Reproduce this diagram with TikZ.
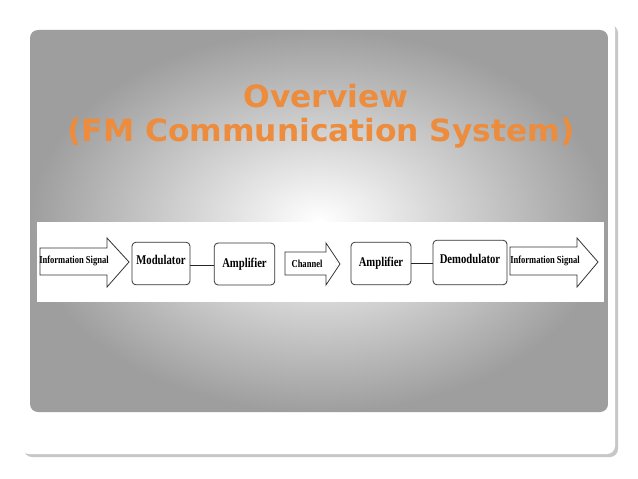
\documentclass[tikz,border=0pt]{standalone}
\usepackage{fontspec}
\setmainfont{Liberation Serif}
\newfontfamily\titlefont{DejaVu Sans}
\usetikzlibrary{shapes.arrows}
\definecolor{ttl}{RGB}{236,140,60}
\begin{document}
\begin{tikzpicture}[x=0.75pt,y=-0.75pt,
  blk/.style={draw=black!80,rounded corners=3pt,fill=white,line width=0.6pt,font=\bfseries\fontsize{10}{11}\selectfont},
  arr/.style={draw=black!80,fill=white,line width=0.6pt},
  lbl/.style={font=\bfseries\fontsize{8}{9}\selectfont,inner sep=0pt},
  wire/.style={draw=black!85,line width=0.7pt}]
\useasboundingbox (0,0) rectangle (638,478);
\fill[white] (0,0) rectangle (638,478);
\fill[black!22,rounded corners=6pt] (24,25) rectangle (618,457);
\fill[white,rounded corners=6pt] (21,21) rectangle (615,454);
\shade[inner color=white,outer color=black!38,rounded corners=6pt] (30,30) rectangle (608,412);
\node[text=ttl,font=\titlefont\bfseries\fontsize{23}{27}\selectfont,xscale=1.02] (t1) at (326,96) {Overview};
\node[text=ttl,font=\titlefont\bfseries\fontsize{23}{27}\selectfont,xscale=1.02] (t2) at (321,133) {(FM Communication System)};
\fill[white] (37,222) rectangle (604,302);
% arrows
\draw[arr] (40,248) -- (107,248) -- (107,238) -- (129,262) -- (107,287) -- (107,275) -- (40,275) -- cycle;
\node[lbl,xscale=0.8] (a1) at (74,261) {Information Signal};
\draw[arr] (285,252) -- (326,252) -- (326,243) -- (340,264) -- (326,285) -- (326,275) -- (285,275) -- cycle;
\node[lbl,xscale=0.8] (a2) at (307,264) {Channel};
\draw[arr] (510,247) -- (577,247) -- (577,238) -- (598,262) -- (577,287) -- (577,275) -- (510,275) -- cycle;
\node[lbl,xscale=0.8] (a3) at (545,261) {Information Signal};
% blocks
\node[blk,minimum width=43.5pt,minimum height=32pt,inner sep=0pt] (mod) at (161,263.5) {\raisebox{5pt}{\scalebox{0.8}[1]{Modulator}}};
\node[blk,minimum width=45.5pt,minimum height=31.5pt,inner sep=0pt] (amp1) at (244.5,264) {\scalebox{0.8}[1]{Amplifier}};
\node[blk,minimum width=45pt,minimum height=32pt,inner sep=0pt] (amp2) at (381,263.5) {\scalebox{0.8}[1]{Amplifier}};
\node[blk,minimum width=55.5pt,minimum height=33.5pt,inner sep=0pt] (dem) at (470,262.5) {\raisebox{5pt}{\scalebox{0.8}[1]{Demodulator}}};
\draw[wire] (mod.east |- 0,265) -- (amp1.west |- 0,265);
\draw[wire] (amp2.east |- 0,263) -- (dem.west |- 0,263);
\end{tikzpicture}
\end{document}
